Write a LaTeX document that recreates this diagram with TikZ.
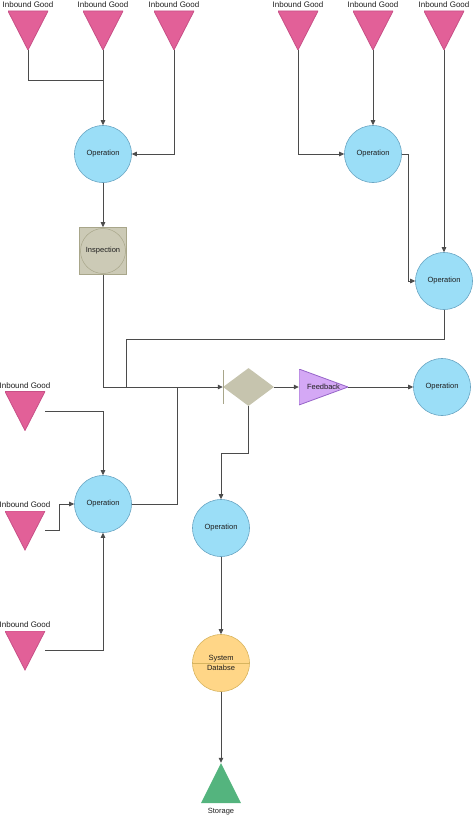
\documentclass[tikz,border=0pt]{standalone}
\usepackage{fontspec}
\setmainfont{Liberation Sans}
\usepackage{tikz}
\usetikzlibrary{shapes.geometric, arrows.meta, positioning, calc}
\definecolor{opfill}{RGB}{155,222,247}
\definecolor{opline}{RGB}{105,165,195}
\definecolor{pinkfill}{RGB}{226,96,152}
\definecolor{pinkline}{RGB}{200,80,135}
\definecolor{inspfill}{RGB}{204,202,182}
\definecolor{inspline}{RGB}{168,166,138}
\definecolor{decfill}{RGB}{198,196,174}
\definecolor{fbfill}{RGB}{212,168,245}
\definecolor{fbline}{RGB}{150,100,200}
\definecolor{dbfill}{RGB}{255,214,135}
\definecolor{dbline}{RGB}{215,180,95}
\definecolor{storefill}{RGB}{84,180,126}
\definecolor{linegray}{RGB}{75,75,75}
\definecolor{txtdark}{RGB}{30,30,30}
\tikzset{
  oper/.style={circle, draw=opline, fill=opfill, minimum size=57pt,
    inner sep=0pt, font=\fontsize{7.5}{9}\selectfont, text=txtdark, line width=0.6pt},
  inbound/.style={rectangle, minimum width=40pt, minimum height=39pt, inner sep=0pt,
    path picture={\draw[draw=pinkline, fill=pinkfill, line width=0.8pt]
      (path picture bounding box.north west) -- (path picture bounding box.north east)
      -- (path picture bounding box.south) -- cycle;},
    label={[lbl, label distance=3pt]above:Inbound Good}},
  lbl/.style={inner sep=0pt, font=\fontsize{8}{9.6}\selectfont, text=txtdark},
  inspect/.style={rectangle, draw=inspline, fill=inspfill, minimum size=47pt,
    inner sep=0pt, font=\fontsize{7.5}{9}\selectfont, text=txtdark, line width=0.6pt,
    path picture={\draw[inspline, line width=0.5pt]
      (path picture bounding box.center) circle (22.5pt);}},
  decision/.style={diamond, fill=decfill, minimum width=51pt, minimum height=38pt, inner sep=0pt},
  feedback/.style={rectangle, minimum width=49pt, minimum height=36pt, inner sep=0pt,
    font=\fontsize{7.5}{9}\selectfont, text=txtdark,
    path picture={\draw[draw=fbline, fill=fbfill, line width=0.8pt]
      (path picture bounding box.north west) -- (path picture bounding box.east)
      -- (path picture bounding box.south west) -- cycle;}},
  sysdb/.style={circle, draw=dbline, fill=dbfill, minimum size=57pt, inner sep=0pt,
    align=center, font=\fontsize{7.5}{10}\selectfont, text=txtdark, line width=0.6pt,
    path picture={\draw[dbline, line width=0.6pt]
      (path picture bounding box.west) -- (path picture bounding box.east);}},
  storage/.style={rectangle, minimum width=40pt, minimum height=40pt, inner sep=0pt,
    path picture={\fill[storefill]
      (path picture bounding box.south west) -- (path picture bounding box.north)
      -- (path picture bounding box.south east) -- cycle;},
    label={[lbl, font=\fontsize{7.5}{9}\selectfont, label distance=5pt]below:Storage}},
  arrow/.style={-{Triangle[length=5pt, width=4.5pt]}, line width=0.8pt, color=linegray},
  line/.style={line width=0.8pt, color=linegray}
}

\begin{document}
\begin{tikzpicture}[x=1pt, y=-1pt]
  \useasboundingbox (0,0) rectangle (474,816);

  % Top-left inbound group
  \node[inbound] (in1) at (28,30.5) {};
  \node[inbound] (in2) at (103,30.5) {};
  \node[inbound] (in3) at (174,30.5) {};
  \node[oper] (op1) at (103,154) {Operation};
  \node[inspect] (insp) at (103,251) {Inspection};
  \coordinate (j1) at (103,80);

  % Top-right inbound group
  \node[inbound] (in4) at (298,30.5) {};
  \node[inbound] (in5) at (373,30.5) {};
  \node[inbound] (in6) at (444,30.5) {};
  \node[oper] (op2) at (373,154) {Operation};
  \node[oper] (op3) at (444,281) {Operation};

  % Decision and feedback row
  \node[decision] (dec) at (248.5,387) {};
  \node[feedback] (fb) at (323.5,387) {Feedback};
  \node[oper] (op4) at (442,387) {Operation};
  \coordinate (j2) at (126,387);
  \coordinate (j3) at (177,387);
  \draw[inspline, line width=0.5pt] ([yshift=17pt]dec.west) -- ([yshift=-17pt]dec.west);

  % Bottom-left inbound group
  \node[inbound] (in7) at (25,411) {};
  \node[inbound] (in8) at (25,530.5) {};
  \node[inbound] (in9) at (25,650.5) {};
  \node[oper] (op5) at (103,504) {Operation};

  % Output chain
  \node[oper] (op6) at (221,528) {Operation};
  \node[sysdb] (db) at (221,663) {System\\Databse};
  \node[storage] (store) at (221,783) {};

  % Connectors
  \draw[line] (in1.south) |- (j1);
  \draw[arrow] (in2.south) -- (op1.north);
  \draw[arrow] (in3.south) |- (op1.east);
  \draw[arrow] (in4.south) |- (op2.west);
  \draw[arrow] (in5.south) -- (op2.north);
  \draw[arrow] (op2.east) -- ++(7,0) |- (op3.west);
  \draw[arrow] (in6.south) -- (op3.north);
  \draw[arrow] (op1.south) -- (insp.north);
  \draw[arrow] (insp.south) |- (dec.west);
  \draw[line] (op3.south) -- ++(0,30) -| (j2);
  \draw[line] (op5.east) -| (j3);
  \draw[arrow] (dec.east) -- (fb.west);
  \draw[arrow] (fb.east) -- (op4.west);
  \draw[arrow] (in7.east) -| (op5.north);
  \draw[arrow] (in8.east) -- ++(14,0) |- (op5.west);
  \draw[arrow] (in9.east) -| (op5.south);
  \draw[arrow] (dec.south) -- ++(0,47) -| (op6.north);
  \draw[arrow] (op6.south) -- (db.north);
  \draw[arrow] (db.south) -- (store.north);
\end{tikzpicture}
\end{document}
